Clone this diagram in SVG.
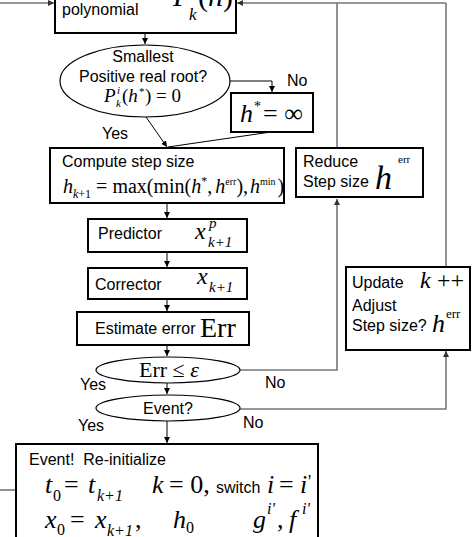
<svg xmlns="http://www.w3.org/2000/svg" width="474" height="537" viewBox="0 0 474 537">
<defs>
<style>
.box{fill:#fff;stroke:#000;stroke-width:2}
.t{font-family:"Liberation Sans",Arial,sans-serif;font-size:16px;fill:#000}
.m{font-family:"Liberation Serif","Times New Roman",serif;font-style:italic;fill:#000}
.r{font-family:"Liberation Serif","Times New Roman",serif;fill:#000}
.c{stroke:#000;stroke-width:1;fill:none}
.g{stroke:#777;stroke-width:1.6;fill:none}
</style>
<marker id="ab" markerWidth="7" markerHeight="7" refX="6" refY="3" orient="auto" markerUnits="userSpaceOnUse">
<path d="M0,0 L6,3 L0,6 z" fill="#000"/>
</marker>
<marker id="ag" markerWidth="7" markerHeight="7" refX="6" refY="3" orient="auto" markerUnits="userSpaceOnUse">
<path d="M0,0 L6,3 L0,6 z" fill="#333"/>
</marker>
</defs>
<rect width="474" height="537" fill="#fff"/>

<g id="connectors">
<path class="g" d="M0 3 H54" marker-end="url(#ag)"/>
<path class="g" d="M446 3 H237" marker-end="url(#ag)"/>
<path class="g" d="M337 148 V3"/>
<path class="g" d="M446 267 V3"/>
<path class="c" d="M145 33 V44" marker-end="url(#ab)"/>
<path class="c" d="M230 81 H272 V92" marker-end="url(#ab)"/>
<path class="c" d="M146 117 L167 147" marker-end="url(#ab)"/>
<path class="c" d="M271 132 L168 147"/>
<path class="c" d="M167 203 V218" marker-end="url(#ab)"/>
<path class="c" d="M167 252 V267" marker-end="url(#ab)"/>
<path class="c" d="M167 299 V311" marker-end="url(#ab)"/>
<path class="c" d="M167 345 V356" marker-end="url(#ab)"/>
<path class="c" d="M167 383 V394" marker-end="url(#ab)"/>
<path class="c" d="M167 421 V443" marker-end="url(#ab)"/>
<path class="g" d="M240 370 H337 V199" marker-end="url(#ag)"/>
<path class="g" d="M240 409 H446 V351" marker-end="url(#ag)"/>
<path class="g" d="M0 490 H16"/>
</g>

<g id="poly">
<rect class="box" x="55" y="-10" width="181" height="43"/>
<text class="t" x="62" y="15">polynomial</text>
<text class="m" x="173" y="6" font-size="30">P</text>
<text class="m" x="189" y="20" font-size="17">k</text>
<text class="r" x="198" y="6" font-size="30">(<tspan class="m">h</tspan>)</text>
</g>

<g id="root">
<ellipse cx="145" cy="81" rx="85" ry="36" fill="#fff" stroke="#000" stroke-width="1.2"/>
<text class="t" x="143" y="62" text-anchor="middle">Smallest</text>
<text class="t" x="143" y="82" text-anchor="middle">Positive real root?</text>
<text class="m" x="104" y="102" font-size="19">P</text>
<text class="m" x="117" y="94" font-size="11">i</text>
<text class="m" x="116" y="107" font-size="11">k</text>
<text class="r" x="122" y="102" font-size="19">(<tspan class="m">h</tspan></text>
<text class="r" x="139" y="95" font-size="11">*</text>
<text class="r" x="145" y="102" font-size="19">) = 0</text>
<text class="t" x="287" y="86">No</text>
<text class="t" x="102" y="139">Yes</text>
</g>

<g id="hinf">
<rect class="box" x="231" y="93" width="82" height="39"/>
<text class="m" x="240" y="122" font-size="26">h</text>
<text class="r" x="254" y="111" font-size="14">*</text>
<text class="r" x="263" y="122" font-size="26">= ∞</text>
</g>

<g id="compute">
<rect class="box" x="50" y="148" width="234" height="55"/>
<text class="t" x="62" y="167">Compute step size</text>
<text class="r" x="63" y="193" font-size="20"><tspan class="m">h</tspan><tspan class="m" font-size="12" dy="5">k</tspan><tspan font-size="12">+1</tspan><tspan dy="-5"> = max(min(</tspan><tspan class="m">h</tspan><tspan font-size="12" dy="-8">*</tspan><tspan dy="8">,</tspan><tspan class="m" dx="3">h</tspan><tspan font-size="10" dy="-8">err</tspan><tspan dy="8">),</tspan><tspan class="m" dx="2">h</tspan><tspan font-size="10" dy="-8">min</tspan><tspan dy="8" dx="2">)</tspan></text>
</g>

<g id="reduce">
<rect class="box" x="296" y="148" width="127" height="49"/>
<text class="t" x="303" y="167">Reduce</text>
<text class="t" x="303" y="187">Step size</text>
<text class="m" x="375" y="189" font-size="34">h</text>
<text class="r" x="398" y="163" font-size="11">err</text>
</g>

<g id="predictor">
<rect class="box" x="88" y="219" width="159" height="33"/>
<text class="t" x="98" y="239">Predictor</text>
<text class="m" x="195" y="239" font-size="24">x</text>
<text class="m" x="209" y="228" font-size="15">p</text>
<text class="m" x="208" y="247" font-size="15">k<tspan class="r">+1</tspan></text>
</g>

<g id="corrector">
<rect class="box" x="88" y="268" width="159" height="31"/>
<text class="t" x="95" y="290">Corrector</text>
<text class="m" x="197" y="284" font-size="24">x</text>
<text class="m" x="209" y="292" font-size="15">k<tspan class="r">+1</tspan></text>
</g>

<g id="estimate">
<rect class="box" x="77" y="312" width="172" height="33"/>
<text class="t" x="95" y="334">Estimate error</text>
<text class="r" x="200" y="337" font-size="28">Err</text>
</g>

<g id="errtest">
<ellipse cx="168" cy="370" rx="72" ry="13" fill="#fff" stroke="#000" stroke-width="1.2"/>
<text class="r" x="139" y="377" font-size="22">Err ≤ <tspan class="m">ε</tspan></text>
<text class="t" x="80" y="390">Yes</text>
<text class="t" x="265" y="388">No</text>
</g>

<g id="event">
<ellipse cx="168" cy="408" rx="72" ry="13" fill="#fff" stroke="#000" stroke-width="1.2"/>
<text class="t" x="168" y="414" text-anchor="middle">Event?</text>
<text class="t" x="243" y="428">No</text>
<text class="t" x="78" y="431">Yes</text>
</g>

<g id="update">
<rect class="box" x="346" y="267" width="124" height="83"/>
<text class="t" x="352" y="288">Update</text>
<text class="m" x="420" y="288" font-size="24">k</text>
<text class="r" x="437" y="288" font-size="24">++</text>
<text class="t" x="352" y="311">Adjust</text>
<text class="t" x="352" y="331">Step size?</text>
<text class="m" x="432" y="332" font-size="26">h</text>
<text class="r" x="446" y="318" font-size="13">err</text>
</g>

<g id="reinit">
<rect class="box" x="16" y="444" width="302" height="110"/>
<text class="t" x="29" y="465" xml:space="preserve">Event!  Re-initialize</text>
<text class="m" x="45" y="493" font-size="26">t</text>
<text class="r" x="53" y="501" font-size="16">0</text>
<text class="r" x="64" y="493" font-size="26">=</text>
<text class="m" x="88" y="493" font-size="26">t</text>
<text class="m" x="97" y="501" font-size="16">k<tspan class="r">+1</tspan></text>
<text class="m" x="152" y="493" font-size="26">k</text>
<text class="r" x="169" y="493" font-size="26">= 0,</text>
<text class="t" x="216" y="493">switch</text>
<text class="m" x="267" y="493" font-size="26">i</text>
<text class="r" x="279" y="493" font-size="26">=</text>
<text class="m" x="300" y="493" font-size="26">i</text>
<text class="r" x="308" y="488" font-size="18">'</text>
<text class="m" x="45" y="528" font-size="26">x</text>
<text class="r" x="57" y="535" font-size="16">0</text>
<text class="r" x="70" y="528" font-size="26">=</text>
<text class="m" x="95" y="528" font-size="26">x</text>
<text class="m" x="107" y="536" font-size="16">k<tspan class="r">+1</tspan></text>
<text class="r" x="135" y="528" font-size="26">,</text>
<text class="m" x="173" y="528" font-size="26">h</text>
<text class="r" x="186" y="533" font-size="16">0</text>
<text class="m" x="253" y="528" font-size="26">g</text>
<text class="m" x="267" y="514" font-size="16">i<tspan class="r">'</tspan></text>
<text class="r" x="277" y="528" font-size="26">,</text>
<text class="m" x="289" y="528" font-size="26">f</text>
<text class="m" x="302" y="514" font-size="16">i<tspan class="r">'</tspan></text>
</g>
</svg>
